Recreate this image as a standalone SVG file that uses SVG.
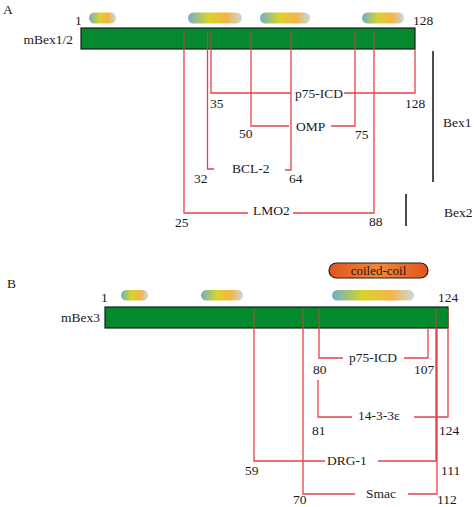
<svg xmlns="http://www.w3.org/2000/svg" width="474" height="507" viewBox="0 0 474 507">
<defs>
<linearGradient id="dom" x1="0" y1="0" x2="1" y2="0">
<stop offset="0" stop-color="#6fb0c8"/>
<stop offset="0.38" stop-color="#d8d42a"/>
<stop offset="0.72" stop-color="#f5b448"/>
<stop offset="1" stop-color="#c8d9dd"/>
</linearGradient>
<linearGradient id="cc" x1="0" y1="0" x2="1" y2="0">
<stop offset="0" stop-color="#e05420"/>
<stop offset="0.5" stop-color="#f0883c"/>
<stop offset="1" stop-color="#e05420"/>
</linearGradient>
<style>
text{font-family:"Liberation Serif","Times New Roman",serif;font-size:13.5px;fill:#1a1a1a}
.bar{fill:#05892f;stroke:#1a1a1a;stroke-width:1.2}
.dom{fill:url(#dom)}
.ln{fill:none;stroke:#e3414d;stroke-width:1.3}
.inb{fill:none;stroke:#8f5a35;stroke-width:1.3}
.blk{stroke:#111;stroke-width:1.5}
.r{text-anchor:end}
</style>
</defs>
<rect width="474" height="507" fill="#fff"/>

<!-- Panel A -->
<text x="3" y="14">A</text>
<g id="mBex12">
<rect class="bar" x="81" y="28" width="334" height="21"/>
<text class="r" x="73" y="44">mBex1/2</text>
<text x="75" y="25">1</text>
<text x="413" y="25">128</text>
</g>
<g id="domainsA">
<rect class="dom" x="89" y="12.5" width="27" height="11" rx="5.5"/>
<rect class="dom" x="188" y="12.5" width="54" height="11" rx="5.5"/>
<rect class="dom" x="260" y="12.5" width="50" height="11" rx="5.5"/>
<rect class="dom" x="362" y="12.5" width="42" height="11" rx="5.5"/>
</g>
<g id="connectorsA">
<path class="inb" d="M184 32V49M207.5 32V49M211 32V49M251 32V49M291 32V49M355 32V49M374 32V49"/>
<path class="ln" d="M184 49V213H248M207.5 49V169H214M211 49V93H291M251 49V126H289M291 49V170H285M355 49V126H331M374 49V213H293M415 49V93H344"/>
</g>
<g id="p75A"><text x="295" y="98">p75-ICD</text><text x="210" y="108">35</text><text x="405" y="108">128</text></g>
<g id="OMP"><text x="296" y="131">OMP</text><text x="239" y="138">50</text><text x="355" y="139">75</text></g>
<g id="BCL2"><text x="232" y="173">BCL-2</text><text x="194" y="183">32</text><text x="289" y="183">64</text></g>
<g id="LMO2"><text x="253" y="215">LMO2</text><text x="175" y="227">25</text><text x="369" y="226">88</text></g>
<g id="Bex1"><line class="blk" x1="433" y1="51" x2="433" y2="182"/><text x="443" y="127">Bex1</text></g>
<g id="Bex2"><line class="blk" x1="406" y1="194" x2="406" y2="226"/><text x="444" y="217">Bex2</text></g>

<!-- Panel B -->
<text x="7" y="288">B</text>
<g id="coiledcoil">
<rect x="329" y="263" width="99" height="15" rx="7.5" fill="url(#cc)" stroke="#2a1a10" stroke-width="1.2"/>
<text x="378.5" y="274.5" text-anchor="middle" style="font-size:13px;fill:#2a1408">coiled-coil</text>
</g>
<g id="mBex3">
<rect class="bar" x="105" y="307" width="343" height="21"/>
<text class="r" x="100" y="322">mBex3</text>
<text x="101" y="302">1</text>
<text x="438" y="302">124</text>
</g>
<g id="domainsB">
<rect class="dom" x="121" y="290" width="27" height="10.5" rx="5.2"/>
<rect class="dom" x="201" y="290" width="42" height="10.5" rx="5.2"/>
<rect class="dom" x="332" y="290" width="82" height="10.5" rx="5.2"/>
</g>
<g id="connectorsB">
<path class="inb" d="M254 309V328M303 309V328M319 309V328M436 309V328M448 309V328"/>
<path class="ln" d="M319 328V358H343M428 328V358H404M318 380V417H352M448 328V417H414M254 328V461H325M436 328V461H378M303 328V494H355M437 328V494H408"/>
</g>
<g id="p75B"><text x="349" y="362">p75-ICD</text><text x="313" y="374">80</text><text x="414" y="374">107</text></g>
<g id="ywhae"><text x="358" y="420">14-3-3ε</text><text x="312" y="435">81</text><text x="439" y="435">124</text></g>
<g id="DRG1"><text x="327" y="465">DRG-1</text><text x="245" y="475">59</text><text x="441" y="475">111</text></g>
<g id="Smac"><text x="366" y="498">Smac</text><text x="293" y="503.5">70</text><text x="437" y="503.5">112</text></g>
</svg>
